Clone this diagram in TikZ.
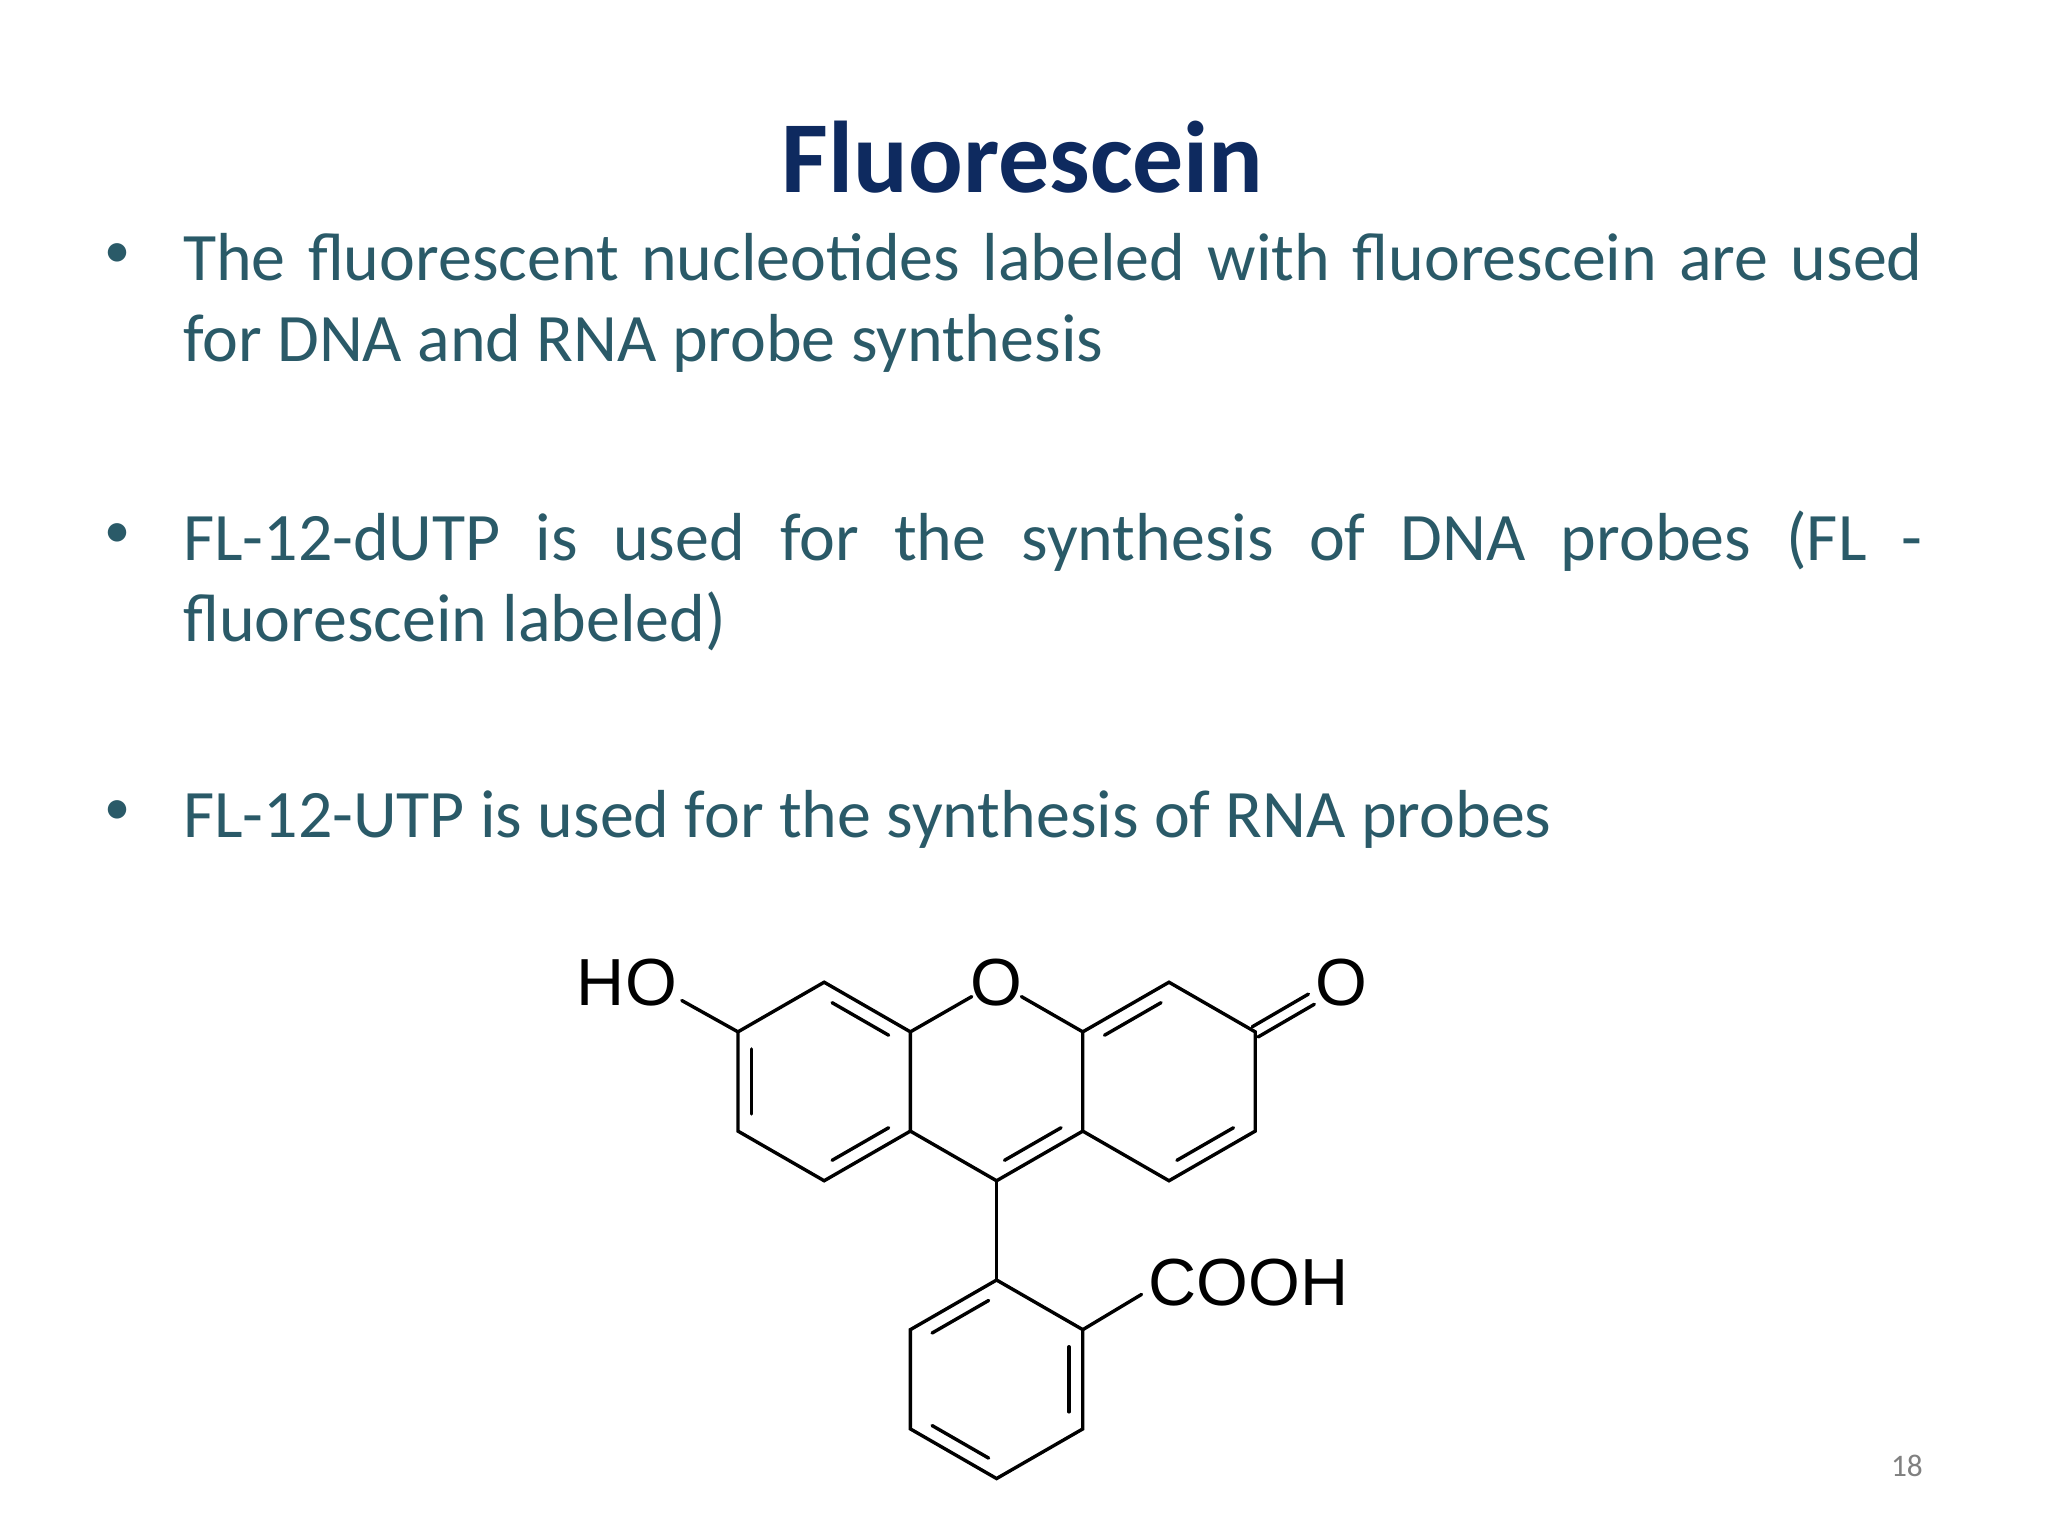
\documentclass[tikz,border=0pt]{standalone}
\usepackage{fontspec}
\setmainfont{Carlito}
\newfontfamily\molfont{Liberation Sans}
\usetikzlibrary{calc}
\definecolor{titlec}{HTML}{0E2A5F}
\definecolor{bodyc}{HTML}{2A5A68}
\tikzset{
  bond/.style={line width=2.6pt,line cap=round},
  body/.style={anchor=base west,inner sep=0pt,font=\fontsize{52}{62}\selectfont,text=bodyc},
  bul/.style={inner sep=0pt,font=\fontsize{40}{40}\selectfont,text=bodyc},
  atom/.style={inner sep=0pt,font=\molfont\fontsize{51}{51}\selectfont}
}
\newcommand{\innerbond}[3]{\draw[bond,shorten <=7pt,shorten >=7pt] ($(#1)!0.16!(#3)$) -- ($(#2)!0.16!(#3)$);}
\begin{document}
\begin{tikzpicture}[x=1pt,y=-1pt]
\useasboundingbox (0,0) rectangle (1568,1176);
\fill[white] (0,0) rectangle (1568,1176);
\node[inner sep=0pt,font=\fontsize{78}{80}\selectfont\bfseries,text=titlec] (title) at (783,120) {Fluorescein};
\node[bul] (b1) at (90,196) {•};
\node[body] (t1a) at (140,215) {\makebox[1332pt][s]{The fluorescent nucleotides labeled with fluorescein are used}};
\node[body] (t1b) at (140,277) {for DNA and RNA probe synthesis};
\node[bul] (b2) at (90,410) {•};
\node[body] (t2a) at (140,429) {\makebox[1332pt][s]{FL-12-dUTP is used for the synthesis of DNA probes (FL -}};
\node[body] (t2b) at (140,491) {fluorescein labeled)};
\node[bul] (b3) at (90,622) {•};
\node[body] (t3) at (140,641) {FL-12-UTP is used for the synthesis of RNA probes};
\node[inner sep=0pt,font=\fontsize{24}{24}\selectfont,text=gray] (pg) at (1460,1122) {18};
% atoms
\coordinate (L1) at (631,752); \coordinate (L2) at (697,790); \coordinate (L3) at (697,866);
\coordinate (L4) at (631,904); \coordinate (L5) at (565,866); \coordinate (L6) at (565,790);
\coordinate (R1) at (829,790); \coordinate (R2) at (895,752); \coordinate (R3) at (961,790);
\coordinate (R4) at (961,866); \coordinate (R5) at (895,904); \coordinate (R6) at (829,866);
\coordinate (C9) at (763,904); \coordinate (Oc) at (763,752);
\coordinate (P1) at (763,980); \coordinate (P2) at (829,1018); \coordinate (P3) at (829,1094);
\coordinate (P4) at (763,1132); \coordinate (P5) at (697,1094); \coordinate (P6) at (697,1018);
\coordinate (LC) at (631,828); \coordinate (MC) at (763,828); \coordinate (RC) at (895,828); \coordinate (PC) at (763,1056);
\coordinate (HOe) at (522,766); \coordinate (Oe) at (1004,765); \coordinate (COe) at (874,991);
\node[atom] (O1) at (763,752) {O};
\node[atom] (HO) at (480,752) {HO};
\node[atom] (O2) at (1027,752) {O};
\node[atom] (COOH) at (956,982) {COOH};
\draw[bond] (L1)--(L2)--(L3)--(L4)--(L5)--(L6)--cycle;
\draw[bond] (R1)--(R2)--(R3)--(R4)--(R5)--(R6)--cycle;
\draw[bond] (L3)--(C9)--(R6);
\draw[bond] (L2)--(744,763); \draw[bond] (782,763)--(R1);
\draw[bond] (C9)--(P1);
\draw[bond] (P1)--(P2)--(P3)--(P4)--(P5)--(P6)--cycle;
\draw[bond] (L6)--(HOe);
\draw[bond] (P2)--(COe);
\draw[bond] ($(R3)!4.5pt!90:(Oe)$) -- ($(Oe)!4.5pt!-90:(R3)$);
\draw[bond] ($(R3)!4.5pt!-90:(Oe)$) -- ($(Oe)!4.5pt!90:(R3)$);
\innerbond{L5}{L6}{LC} \innerbond{L1}{L2}{LC} \innerbond{L3}{L4}{LC}
\innerbond{C9}{R6}{MC}
\innerbond{R1}{R2}{RC} \innerbond{R4}{R5}{RC}
\innerbond{P6}{P1}{PC} \innerbond{P2}{P3}{PC} \innerbond{P4}{P5}{PC}
\end{tikzpicture}
\end{document}
